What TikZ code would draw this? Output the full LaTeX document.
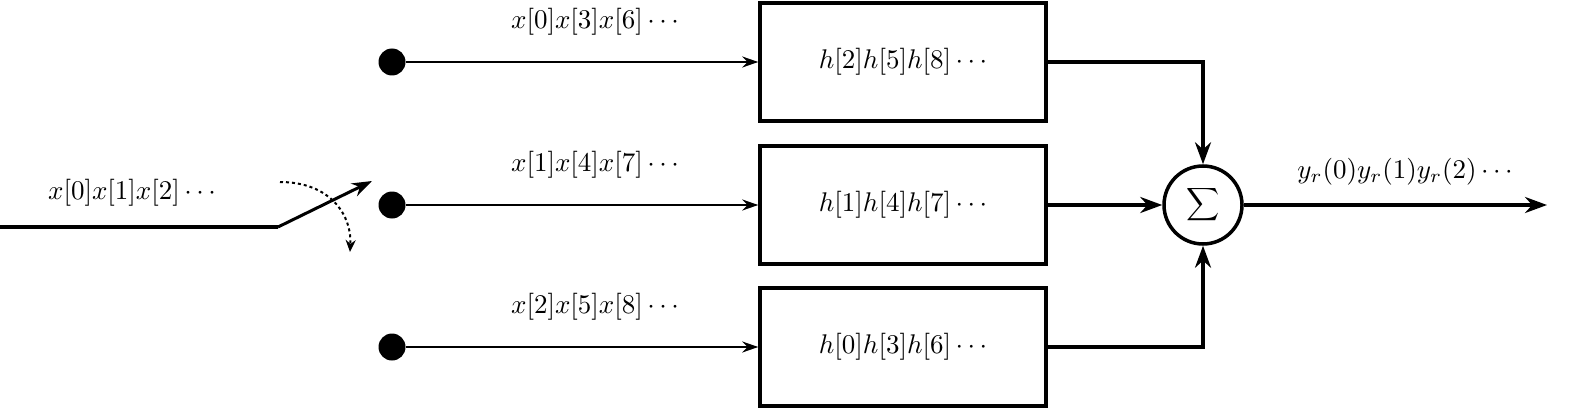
\documentclass[tikz,border=0pt]{standalone}
\usetikzlibrary{arrows.meta}
\newcommand{\bigtxt}[1]{\scalebox{2.7}{#1}}
\begin{document}
\begin{tikzpicture}[x=1pt,y=-1pt,
  blk/.style={draw,line width=3.5pt,minimum width=286pt,minimum height=118pt,inner sep=0pt},
  thinarr/.style={line width=1.8pt,-{Stealth[length=16pt,width=11pt]}},
  thickarr/.style={line width=3.5pt,-{Stealth[length=22pt,width=16pt]}},
  dotn/.style={circle,fill,inner sep=0pt,minimum size=27pt}]
\useasboundingbox (0,0) rectangle (1570,409);
\node (lin) at (132,193) {\bigtxt{$x[0]x[1]x[2]\cdots$}};
\coordinate (s0) at (0,227);
\coordinate (s1) at (278,227);
\coordinate (s2) at (372,181);
\draw[line width=3.5pt] (s0) -- (s1);
\draw[line width=3pt,-{Stealth[length=20pt,width=14pt]}] (s1) -- (s2);
\coordinate (d0) at (280,182);
\coordinate (d1) at (350,252);
\draw[line width=2pt,dashed,-{Stealth[length=12pt,width=10pt]}] (d0) .. controls (330,182) and (352,215) .. (d1);
\foreach \i/\y/\xl/\hl in {a/62/{x[0]x[3]x[6]}/{h[2]h[5]h[8]},b/205/{x[1]x[4]x[7]}/{h[1]h[4]h[7]},c/347/{x[2]x[5]x[8]}/{h[0]h[3]h[6]}}{
  \node[dotn] (dot\i) at (392,\y) {};
  \node[blk] (box\i) at (903,\y) {\bigtxt{$\hl\cdots$}};
  \node (xl\i) at (595,\y-40) {\bigtxt{$\xl\cdots$}};
  \draw[thinarr] (dot\i) -- (box\i.west);
}
\node[circle,draw,line width=3.5pt,minimum size=78pt,inner sep=0pt] (sum) at (1203,205) {\scalebox{2.3}{$\displaystyle\sum$}};
\draw[thickarr] (boxa.east) -| (sum.north);
\draw[thickarr] (boxc.east) -| (sum.south);
\draw[thickarr] (boxb.east) -- (sum.west);
\coordinate (out) at (1547,205);
\draw[thickarr] (sum.east) -- (out);
\node (ol) at (1405,172) {\bigtxt{$y_r(0)y_r(1)y_r(2)\cdots$}};
\end{tikzpicture}
\end{document}
